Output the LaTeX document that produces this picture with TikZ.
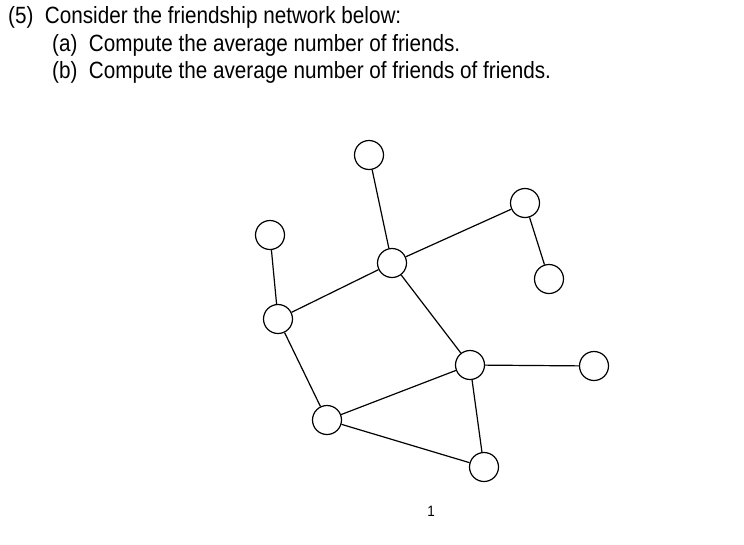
\documentclass[tikz,border=0pt]{standalone}
\usepackage{fontspec}
\setmainfont{Liberation Sans}
\begin{document}
\begin{tikzpicture}[x=1pt,y=-1pt,
  v/.style={circle,draw,line width=1.2pt,minimum size=29pt,inner sep=0pt},
  e/.style={line width=1.2pt},
  txt/.style={anchor=west,inner sep=0pt,font=\fontsize{23.5}{26}\selectfont,xscale=0.88}]
\useasboundingbox (0,0) rectangle (744,544);
\node[txt] (t1) at (8,17) {(5)\ \ Consider the friendship network below:};
\node[txt] (t2) at (52,45) {(a)\ \ Compute the average number of friends.};
\node[txt] (t3) at (52,72) {(b)\ \ Compute the average number of friends of friends.};
\node[font=\fontsize{15}{17}\selectfont,xscale=0.9] (pg) at (431,511) {1};
\node[v] (A) at (369,155) {};
\node[v] (B) at (525,203) {};
\node[v] (C) at (270,235) {};
\node[v] (D) at (392,263) {};
\node[v] (E) at (549,279) {};
\node[v] (F) at (278,319) {};
\node[v] (G) at (470,365) {};
\node[v] (H) at (594,366) {};
\node[v] (I) at (327,420) {};
\node[v] (J) at (484,467) {};
\foreach \a/\b in {A/D,D/B,B/E,C/F,F/D,D/G,G/H,F/I,I/G,G/J,I/J}
  \draw[e] (\a) -- (\b);
\end{tikzpicture}
\end{document}
